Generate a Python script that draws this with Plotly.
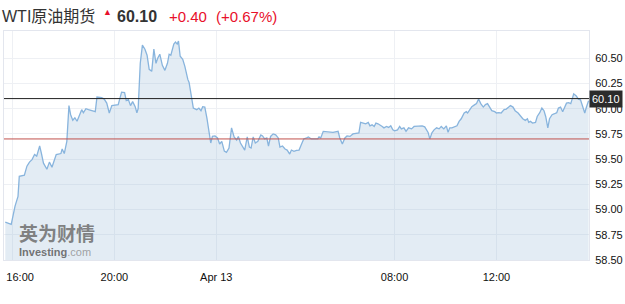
import plotly.graph_objects as go

# ---- data ----
times = [
    "2021-04-12 15:43", "2021-04-12 15:57", "2021-04-12 16:06", "2021-04-12 16:13", "2021-04-12 16:16",
    "2021-04-12 16:28", "2021-04-12 16:34", "2021-04-12 16:40", "2021-04-12 16:46", "2021-04-12 16:52",
    "2021-04-12 16:57", "2021-04-12 17:04", "2021-04-12 17:08", "2021-04-12 17:13", "2021-04-12 17:21",
    "2021-04-12 17:27", "2021-04-12 17:33", "2021-04-12 17:43", "2021-04-12 17:54", "2021-04-12 17:57",
    "2021-04-12 18:02", "2021-04-12 18:08", "2021-04-12 18:13", "2021-04-12 18:17", "2021-04-12 18:22",
    "2021-04-12 18:27", "2021-04-12 18:32", "2021-04-12 18:38", "2021-04-12 18:43", "2021-04-12 18:47",
    "2021-04-12 18:53", "2021-04-12 18:59", "2021-04-12 19:11", "2021-04-12 19:15", "2021-04-12 19:19",
    "2021-04-12 19:30", "2021-04-12 19:36", "2021-04-12 19:42", "2021-04-12 19:48", "2021-04-12 19:54",
    "2021-04-12 20:09", "2021-04-12 20:17", "2021-04-12 20:24", "2021-04-12 20:28", "2021-04-12 20:33",
    "2021-04-12 20:38", "2021-04-12 20:43", "2021-04-12 20:49", "2021-04-12 20:53", "2021-04-12 20:56",
    "2021-04-12 21:01", "2021-04-12 21:06", "2021-04-12 21:12", "2021-04-12 21:17", "2021-04-12 21:22",
    "2021-04-12 21:28", "2021-04-12 21:33", "2021-04-12 21:38", "2021-04-12 21:42", "2021-04-12 21:47",
    "2021-04-12 21:53", "2021-04-12 21:59", "2021-04-12 22:05", "2021-04-12 22:09", "2021-04-12 22:13",
    "2021-04-12 22:20", "2021-04-12 22:24", "2021-04-12 22:28", "2021-04-12 22:31", "2021-04-12 22:35",
    "2021-04-12 22:41", "2021-04-12 22:46", "2021-04-12 22:53", "2021-04-12 22:56", "2021-04-12 23:06",
    "2021-04-12 23:14", "2021-04-12 23:19", "2021-04-12 23:24", "2021-04-12 23:28", "2021-04-12 23:33",
    "2021-04-12 23:38", "2021-04-12 23:43", "2021-04-12 23:47", "2021-04-12 23:51", "2021-04-12 23:57",
    "2021-04-13 00:03", "2021-04-13 00:08", "2021-04-13 00:13", "2021-04-13 00:19", "2021-04-13 00:24",
    "2021-04-13 00:30", "2021-04-13 00:36", "2021-04-13 00:42", "2021-04-13 00:48", "2021-04-13 00:52",
    "2021-04-13 00:57", "2021-04-13 01:02", "2021-04-13 01:07", "2021-04-13 01:13", "2021-04-13 01:18",
    "2021-04-13 01:22", "2021-04-13 01:27", "2021-04-13 01:32", "2021-04-13 01:38", "2021-04-13 01:45",
    "2021-04-13 01:49", "2021-04-13 01:54", "2021-04-13 01:59", "2021-04-13 02:03", "2021-04-13 02:08",
    "2021-04-13 02:14", "2021-04-13 02:20", "2021-04-13 02:26", "2021-04-13 02:30", "2021-04-13 02:36",
    "2021-04-13 02:42", "2021-04-13 02:47", "2021-04-13 02:53", "2021-04-13 02:57", "2021-04-13 03:03",
    "2021-04-13 03:09", "2021-04-13 03:15", "2021-04-13 03:20", "2021-04-13 03:26", "2021-04-13 03:33",
    "2021-04-13 03:37", "2021-04-13 03:44", "2021-04-13 03:52", "2021-04-13 03:59", "2021-04-13 04:02",
    "2021-04-13 04:06", "2021-04-13 04:12", "2021-04-13 04:20", "2021-04-13 04:28", "2021-04-13 04:35",
    "2021-04-13 04:47", "2021-04-13 04:51", "2021-04-13 04:57",
    "2021-04-13 06:03", "2021-04-13 06:08", "2021-04-13 06:15", "2021-04-13 06:22", "2021-04-13 06:36",
    "2021-04-13 06:40", "2021-04-13 06:46", "2021-04-13 06:52", "2021-04-13 06:58", "2021-04-13 07:02",
    "2021-04-13 07:07", "2021-04-13 07:12", "2021-04-13 07:16", "2021-04-13 07:21", "2021-04-13 07:31",
    "2021-04-13 07:35", "2021-04-13 07:41", "2021-04-13 07:46", "2021-04-13 07:51", "2021-04-13 07:56",
    "2021-04-13 08:00", "2021-04-13 08:07", "2021-04-13 08:12", "2021-04-13 08:16", "2021-04-13 08:22",
    "2021-04-13 08:27", "2021-04-13 08:33", "2021-04-13 08:40", "2021-04-13 08:46", "2021-04-13 08:59",
    "2021-04-13 09:05", "2021-04-13 09:11", "2021-04-13 09:19", "2021-04-13 09:23", "2021-04-13 09:28",
    "2021-04-13 09:33", "2021-04-13 09:39", "2021-04-13 09:45", "2021-04-13 09:50", "2021-04-13 09:56",
    "2021-04-13 10:02", "2021-04-13 10:06", "2021-04-13 10:10", "2021-04-13 10:15", "2021-04-13 10:27",
    "2021-04-13 10:32", "2021-04-13 10:37", "2021-04-13 10:44", "2021-04-13 10:49", "2021-04-13 10:52",
    "2021-04-13 10:57", "2021-04-13 11:02", "2021-04-13 11:09", "2021-04-13 11:13", "2021-04-13 11:18",
    "2021-04-13 11:23", "2021-04-13 11:29", "2021-04-13 11:34", "2021-04-13 11:39", "2021-04-13 11:44",
    "2021-04-13 11:49", "2021-04-13 11:56", "2021-04-13 12:00", "2021-04-13 12:06", "2021-04-13 12:11",
    "2021-04-13 12:18", "2021-04-13 12:23", "2021-04-13 12:29", "2021-04-13 12:33", "2021-04-13 12:39",
    "2021-04-13 12:44", "2021-04-13 12:51", "2021-04-13 12:57", "2021-04-13 13:02", "2021-04-13 13:08",
    "2021-04-13 13:13", "2021-04-13 13:16", "2021-04-13 13:20", "2021-04-13 13:25", "2021-04-13 13:32",
    "2021-04-13 13:36", "2021-04-13 13:42", "2021-04-13 13:47", "2021-04-13 13:52", "2021-04-13 13:56",
    "2021-04-13 14:01", "2021-04-13 14:05", "2021-04-13 14:11", "2021-04-13 14:17", "2021-04-13 14:22",
    "2021-04-13 14:26", "2021-04-13 14:31", "2021-04-13 14:36", "2021-04-13 14:40", "2021-04-13 14:45",
    "2021-04-13 14:50", "2021-04-13 14:55", "2021-04-13 14:59", "2021-04-13 15:02", "2021-04-13 15:08",
    "2021-04-13 15:13", "2021-04-13 15:18", "2021-04-13 15:22", "2021-04-13 15:28", "2021-04-13 15:32",
    "2021-04-13 15:37",
]
prices = [
    58.875, 58.853, 59.034, 59.13, 59.33,
    59.34, 59.43, 59.47, 59.495, 59.545,
    59.53, 59.63, 59.56, 59.46, 59.40,
    59.47, 59.42, 59.545, 59.555, 59.60,
    59.555, 59.676, 60.03, 59.94, 59.885,
    59.91, 59.875, 59.94, 59.99, 59.96,
    60.00, 59.99, 59.976, 59.97, 60.115,
    60.11, 60.095, 60.055, 59.957, 60.03,
    60.04, 60.164, 60.16, 60.08, 60.09,
    60.03, 60.07, 60.02, 59.96, 60.00,
    60.45, 60.63, 60.59, 60.53, 60.39,
    60.37, 60.59, 60.45, 60.50, 60.54,
    60.43, 60.38, 60.45, 60.54, 60.53,
    60.64, 60.66, 60.64, 60.67, 60.52,
    60.49, 60.42, 60.29, 60.26, 60.006,
    59.99, 60.006, 59.98, 60.02, 60.016,
    59.907, 59.79, 59.66, 59.725, 59.73,
    59.71, 59.65, 59.676, 59.58, 59.567,
    59.61, 59.81, 59.72, 59.69, 59.725,
    59.66, 59.63, 59.59, 59.72, 59.62,
    59.61, 59.72, 59.66, 59.676, 59.74,
    59.73, 59.70, 59.71, 59.63, 59.725,
    59.75, 59.74, 59.71, 59.62, 59.63,
    59.60, 59.59, 59.55, 59.59, 59.577,
    59.587, 59.59, 59.64, 59.70, 59.71,
    59.72, 59.70, 59.70, 59.70, 59.72,
    59.71, 59.775, 59.77, 59.765, 59.765,
    59.775, 59.71, 59.65,
    59.71, 59.73, 59.725, 59.75, 59.76,
    59.864, 59.857, 59.85, 59.864, 59.83,
    59.84, 59.824, 59.857, 59.85, 59.824,
    59.81, 59.824, 59.814, 59.83, 59.79,
    59.78, 59.79, 59.824, 59.80, 59.81,
    59.775, 59.81, 59.80, 59.824, 59.83,
    59.83, 59.82, 59.765, 59.70, 59.76,
    59.79, 59.81, 59.80, 59.824, 59.80,
    59.83, 59.765, 59.81, 59.81, 59.83,
    59.874, 59.90, 59.957, 59.97, 59.957,
    59.996, 60.02, 60.04, 60.05, 60.095,
    60.05, 60.016, 60.04, 60.05, 60.016,
    59.98, 59.97, 59.957, 59.96, 59.957,
    59.99, 59.996, 60.016, 60.03, 60.016,
    59.98, 59.957, 59.93, 59.90, 59.884,
    59.90, 59.864, 59.874, 59.857, 59.864,
    59.923, 59.96, 60.006, 59.98, 59.923,
    59.81, 59.90, 59.94, 59.95, 59.96,
    60.006, 60.016, 59.97, 60.016, 60.055,
    60.06, 60.05, 60.105, 60.147, 60.127,
    60.095, 60.088, 60.03, 59.957, 60.016,
    60.08,
]

last_price = 60.10
prev_close = 59.70
change_text = "+0.40"
pct_text = "(+0.67%)"
title_text = "WTI原油期货"

x_tickvals = ["2021-04-12 16:00", "2021-04-12 20:00", "2021-04-13 00:00",
              "2021-04-13 08:00", "2021-04-13 12:00"]
x_ticktext = ["\u00a0\u00a0\u00a0\u00a0\u00a016:00", "20:00", "Apr 13", "08:00", "12:00"]
y_tickvals = [58.50, 58.75, 59.00, 59.25, 59.50, 59.75, 60.00, 60.25, 60.50]
x_range = ["2021-04-12 15:40", "2021-04-13 15:38"]
y_range = [58.5, 60.77]

FONT = "Liberation Sans, Arial, Noto Sans CJK SC, sans-serif"

fig = go.Figure()
fig.add_trace(go.Scatter(
    x=times, y=prices, mode="lines",
    line=dict(color="#88b4dd", width=1.3),
    fill="tozeroy", fillcolor="rgba(150,185,215,0.27)",
    hoverinfo="skip",
))

fig.add_hline(y=last_price, line=dict(color="#222222", width=1))
fig.add_hline(y=prev_close, line=dict(color="#c0504d", width=1))

fig.update_layout(
    width=625, height=304,
    margin=dict(l=4, r=36, t=31, b=44),
    paper_bgcolor="white", plot_bgcolor="white",
    showlegend=False,
    font=dict(family=FONT, size=11, color="#222"),
    xaxis=dict(
        type="date", range=x_range, automargin=False,
        rangebreaks=[dict(bounds=[5, 6], pattern="hour")],
        tickvals=x_tickvals, ticktext=x_ticktext,
        showgrid=True, gridcolor="#eef0f4", gridwidth=1,
        showline=True, linecolor="#e3e6ee", mirror=True,
        ticks="", ticklabelstandoff=7, ticklabeloverflow="allow",
        tickfont=dict(family=FONT, size=11, color="#111"),
        zeroline=False,
    ),
    yaxis=dict(
        range=y_range, side="right", automargin=False,
        tickvals=y_tickvals, tickformat=".2f",
        showgrid=True, gridcolor="#eef0f4", gridwidth=1,
        showline=True, linecolor="#e3e6ee", mirror=True,
        ticks="", ticklabelstandoff=3,
        tickfont=dict(family=FONT, size=11, color="#111"),
        zeroline=False,
    ),
)

ann = []
ann.append(dict(xref="paper", yref="paper", x=-0.006, y=1.062, xanchor="left", yanchor="middle",
                text=title_text, showarrow=False,
                font=dict(family="Liberation Sans, Noto Sans CJK SC", size=16, color="#333")))
ann.append(dict(xref="paper", yref="paper", x=0.166, y=1.085, xanchor="left", yanchor="middle",
                text="▲", showarrow=False, font=dict(size=9, color="#e8102a")))
ann.append(dict(xref="paper", yref="paper", x=0.189, y=1.062, xanchor="left", yanchor="middle",
                text="<b>%.2f</b>" % last_price, showarrow=False,
                font=dict(family=FONT, size=16, color="#333")))
ann.append(dict(xref="paper", yref="paper", x=0.278, y=1.062, xanchor="left", yanchor="middle",
                text=change_text, showarrow=False,
                font=dict(family=FONT, size=15, color="#e8102a")))
ann.append(dict(xref="paper", yref="paper", x=0.359, y=1.062, xanchor="left", yanchor="middle",
                text=pct_text, showarrow=False,
                font=dict(family=FONT, size=15, color="#e8102a")))
# price tag on right axis
ann.append(dict(xref="paper", yref="y", x=1.0, y=last_price, xanchor="left", yanchor="middle",
                text="%.2f" % last_price, showarrow=False, bgcolor="#2b2b2b", borderpad=2,
                font=dict(family=FONT, size=11, color="white")))
# watermark
ann.append(dict(xref="paper", yref="paper", x=0.022, y=0.122, xanchor="left", yanchor="middle",
                text="<b>英为财情</b>", showarrow=False,
                font=dict(family="Noto Sans CJK SC", size=19, color="rgba(110,110,110,0.85)")))
ann.append(dict(xref="paper", yref="paper", x=0.022, y=0.036, xanchor="left", yanchor="middle",
                text="<b>Investing</b><span style='color:rgba(130,130,130,0.8)'>.com</span>",
                showarrow=False,
                font=dict(family=FONT, size=11, color="rgba(100,100,100,0.9)")))
fig.update_layout(annotations=ann)

fig.write_html("out.html")
